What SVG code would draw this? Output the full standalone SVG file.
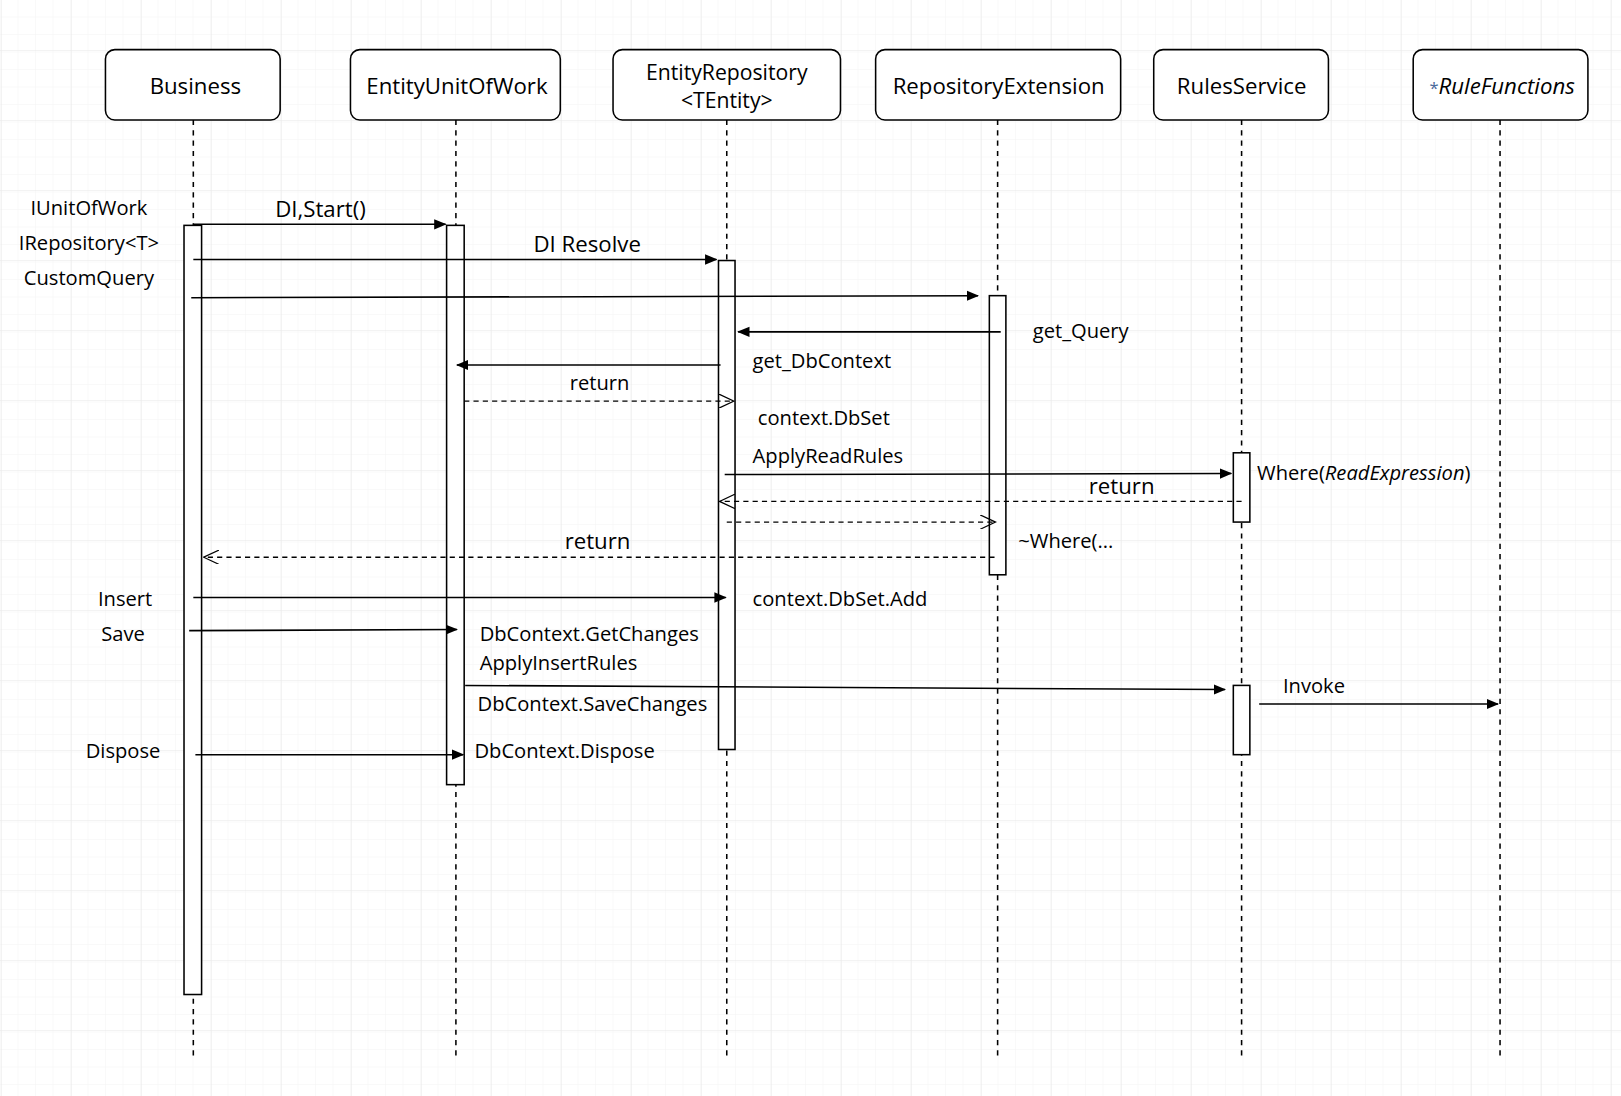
<svg xmlns="http://www.w3.org/2000/svg" width="1621" height="1096" viewBox="0 0 1621 1096">
<defs>
<pattern id="gmin" width="17.5" height="17.5" patternUnits="userSpaceOnUse" x="1" y="0"><path d="M17.5 0V17.5M0 17.5H17.5" fill="none" stroke="#f3f3f3" stroke-width="1"/></pattern>
<pattern id="gmaj" width="70" height="70" patternUnits="userSpaceOnUse" x="1" y="50"><path d="M0 0V70M0 0H70" fill="none" stroke="#e8e8e8" stroke-width="1"/></pattern>
<marker id="fa" viewBox="0 0 12 12" refX="11" refY="6" markerWidth="12" markerHeight="12" markerUnits="userSpaceOnUse" orient="auto"><path d="M0 1L12 6L0 11Z" fill="#000"/></marker>
<marker id="oa" viewBox="0 0 16 14" refX="15" refY="7" markerWidth="16" markerHeight="14" markerUnits="userSpaceOnUse" orient="auto"><path d="M0 0L15 7L0 14" fill="none" stroke="#000" stroke-width="1.2"/></marker>
</defs>
<style>
.box{fill:#fff;stroke:#000;stroke-width:1.5}
.ll{stroke:#000;stroke-width:1.5;stroke-dasharray:5 5;fill:none}
.act{fill:#fff;stroke:#000;stroke-width:1.5}
.m{stroke:#000;stroke-width:1.5;fill:none;marker-end:url(#fa)}
.r{stroke:#000;stroke-width:1.3;stroke-dasharray:5 4;fill:none;marker-end:url(#oa)}
text{font-family:"Open Sans","Liberation Sans",sans-serif;fill:#000}
.h{font-size:21.5px;text-anchor:middle}
.h2{font-size:20.5px;text-anchor:middle}
.t{font-size:19.5px}
.c{font-size:19.5px;text-anchor:middle}
</style>
<rect width="1621" height="1096" fill="#fff"/>
<rect width="1621" height="1096" fill="url(#gmin)"/>
<rect width="1621" height="1096" fill="url(#gmaj)"/>
<g transform="scale(1.0338)">
<g id="lifelines">
<path class="ll" d="M187 116V1025M441 116V1025M703 116V1025M965 116V1025M1201 116V1025M1451 116V1025"/>
</g>
<g id="n-business"><rect class="box" x="102" y="48" width="169" height="68" rx="9"/><text class="h" x="189" y="91">Business</text></g>
<g id="n-euow"><rect class="box" x="339" y="48" width="203" height="68" rx="9"/><text class="h" x="442" y="91">EntityUnitOfWork</text></g>
<g id="n-er"><rect class="box" x="593" y="48" width="220" height="68" rx="9"/><text class="h2" x="703" y="77">EntityRepository</text><text class="h2" x="703" y="104">&lt;TEntity&gt;</text></g>
<g id="n-re"><rect class="box" x="847" y="48" width="237" height="68" rx="9"/><text class="h" x="966" y="91">RepositoryExtension</text></g>
<g id="n-rs"><rect class="box" x="1116" y="48" width="169" height="68" rx="9"/><text class="h" x="1201" y="91">RulesService</text></g>
<g id="n-rf"><rect class="box" x="1367" y="48" width="169" height="68" rx="9"/><text class="h" x="1453" y="91"><tspan fill="#4a6a9a" font-size="16">*</tspan><tspan font-style="italic">RuleFunctions</tspan></text></g>
<g id="activations">
<rect class="act" x="178" y="218" width="17" height="744"/>
<rect class="act" x="432" y="218" width="17" height="541"/>
<rect class="act" x="695" y="252" width="16" height="473"/>
<rect class="act" x="957" y="286" width="16" height="270"/>
<rect class="act" x="1193" y="438" width="16" height="67"/>
<rect class="act" x="1193" y="663" width="16" height="67"/>
</g>
<g id="connectors">
<path class="m" d="M187 217H431"/>
<path class="m" d="M187 251H693"/>
<path class="m" d="M185 288L946 286"/>
<path class="m" d="M968 321H714"/>
<path class="m" d="M697 353H442"/>
<path class="r" d="M449 388H710"/>
<path class="m" d="M701 459L1191 458"/>
<path class="r" d="M1201 485H696"/>
<path class="r" d="M703 505H963"/>
<path class="r" d="M962 539H197"/>
<path class="m" d="M187 578H702"/>
<path class="m" d="M183 610L442 609"/>
<path class="m" d="M450 663L1185 667"/>
<path class="m" d="M1218 681H1449"/>
<path class="m" d="M189 730H448"/>
</g>
<g id="labels">
<text class="c" x="86" y="208">IUnitOfWork</text>
<text class="c" x="86" y="242">IRepository&lt;T&gt;</text>
<text class="c" x="86" y="276">CustomQuery</text>
<text class="h" x="310" y="210">DI,Start()</text>
<text class="h" x="568" y="244">DI Resolve</text>
<text class="t" x="999" y="327">get_Query</text>
<text class="t" x="728" y="356">get_DbContext</text>
<text class="c" x="580" y="377">return</text>
<text class="t" x="733" y="411">context.DbSet</text>
<text class="t" x="728" y="448">ApplyReadRules</text>
<text class="t" x="1216" y="464">Where(<tspan font-style="italic">ReadExpression</tspan>)</text>
<text class="h" x="1085" y="478">return</text>
<text class="t" x="985" y="530">~Where(...</text>
<text class="h" x="578" y="531">return</text>
<text class="c" x="121" y="586">Insert</text>
<text class="t" x="728" y="586">context.DbSet.Add</text>
<text class="c" x="119" y="620">Save</text>
<text class="t" x="464" y="620">DbContext.GetChanges</text>
<text class="t" x="464" y="648">ApplyInsertRules</text>
<text class="t" x="462" y="688">DbContext.SaveChanges</text>
<text class="t" x="1241" y="670">Invoke</text>
<text class="c" x="119" y="733">Dispose</text>
<text class="t" x="459" y="733">DbContext.Dispose</text>
</g>
</g>
</svg>
